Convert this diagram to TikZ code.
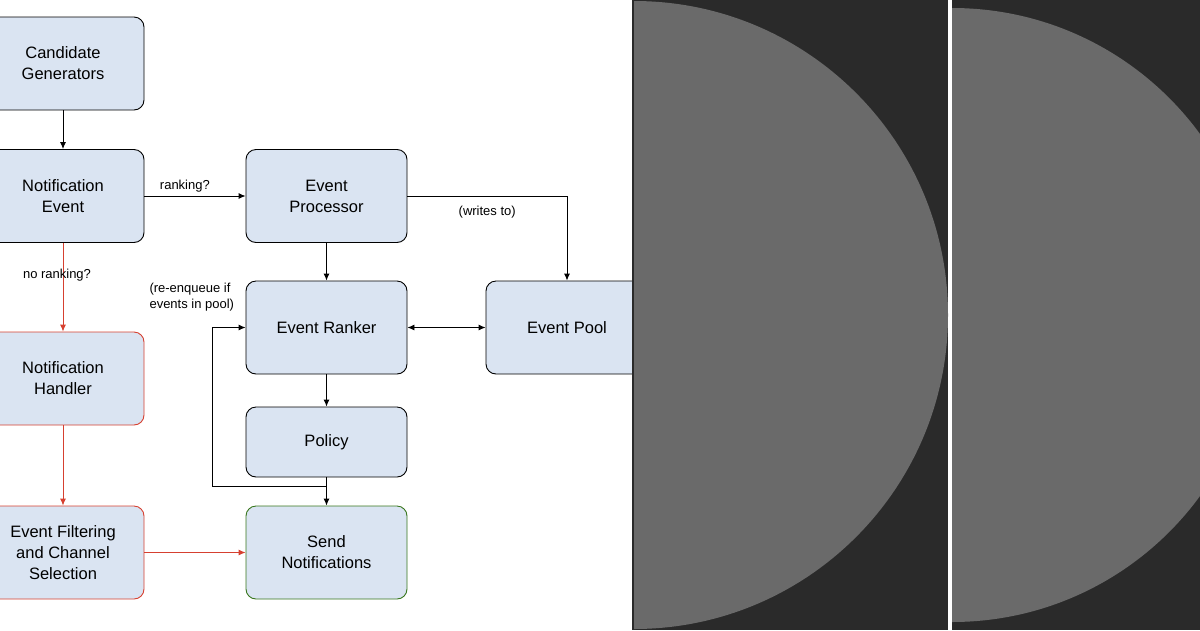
\documentclass[tikz,border=0pt]{standalone}
\usepackage{fontspec}
\setmainfont{Liberation Sans}
\usetikzlibrary{arrows.meta,positioning}
\tikzset{>={Latex[width=6pt,length=7pt]}}
\definecolor{boxfill}{RGB}{218,228,242}
\definecolor{redline}{RGB}{214,64,48}
\definecolor{greenline}{RGB}{56,118,29}
\definecolor{panel}{RGB}{42,42,42}
\definecolor{disc}{RGB}{106,106,106}
\tikzset{
  box/.style={draw=black, fill=boxfill, rounded corners=10pt, minimum width=162pt,
    minimum height=93pt, align=center, font=\fontsize{16.5}{21}\selectfont, line width=0.9pt},
  lbl/.style={font=\fontsize{13}{16}\selectfont, align=left},
  flow/.style={->, line width=0.9pt},
  redflow/.style={->, line width=0.9pt, draw=redline}
}
\begin{document}
\begin{tikzpicture}[x=1pt,y=-1pt]
  \useasboundingbox (0,0) rectangle (1200,630);
  \clip (0,0) rectangle (1200,630);

  % boxes
  \node[box] (gen) at (63,63.5) {Candidate\\Generators};
  \node[box] (event) at (63,196) {Notification\\Event};
  \node[box, draw=redline] (handler) at (63,378.5) {Notification\\Handler};
  \node[box, draw=redline] (filter) at (63,552.5) {Event Filtering\\and Channel\\Selection};
  \node[box, minimum width=161pt] (proc) at (326.5,196) {Event\\Processor};
  \node[box, minimum width=161pt] (ranker) at (326.5,327.5) {Event Ranker};
  \node[box, minimum width=161pt, minimum height=70pt] (policy) at (326.5,442) {Policy};
  \node[box, minimum width=161pt, draw=greenline] (send) at (326.5,552.5) {Send\\Notifications};
  \node[box, minimum width=162pt] (pool) at (567,327.5) {Event Pool};

  % connectors
  \draw[flow] (gen) -- (event);
  \draw[flow] (event) -- node[lbl, above, pos=0.4] {ranking?} (proc);
  \draw[redflow] (event) -- (handler);
  \node[lbl] (noranking) at (57,275) {no ranking?};
  \draw[redflow] (handler) -- (filter);
  \draw[redflow] (filter) -- (send);
  \draw[flow] (proc) -- (ranker);
  \draw[flow] (proc.east) -| node[lbl, pos=0.25, below=6pt] {(writes to)} (pool.north);
  \draw[<->, line width=0.9pt] (ranker) -- (pool);
  \draw[flow] (ranker) -- (policy);
  \draw[flow] (policy) -- (send);
  \coordinate (loop) at (326.5,486);
  \draw[flow] (loop) -| (212,327.5) -- (ranker.west);
  \node[lbl, anchor=west] (requeue) at (146,297) {(re-enqueue if\\events in pool)};

  % right panels
  \fill[panel] (632,0) rectangle (1200,630);
  \fill[white] (948,0) rectangle (952,630);
  \begin{scope}
    \clip (634,0) rectangle (948,630);
    \fill[disc] (634,315) circle (314pt);
  \end{scope}
  \begin{scope}
    \clip (952,0) rectangle (1200,630);
    \fill[disc] (952,315) circle (307pt);
  \end{scope}
\end{tikzpicture}
\end{document}
